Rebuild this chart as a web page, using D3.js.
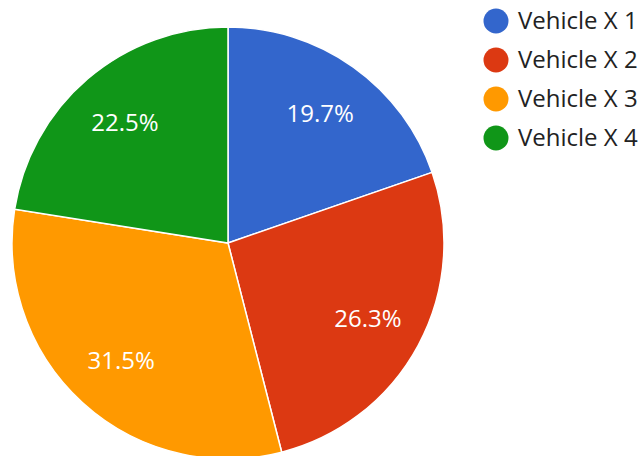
<!DOCTYPE html>
<html>
<head>
<meta charset="utf-8">
<script src="https://cdn.jsdelivr.net/npm/d3@7"></script>
<style>
  body { margin: 0; background: #fff; }
  svg { display: block; font-family: "Open Sans", "Noto Sans", sans-serif; }
</style>
</head>
<body>
<div id="chart"></div>
<script>
// chart data
const categories = ["Vehicle X 1", "Vehicle X 2", "Vehicle X 3", "Vehicle X 4"];
const values = [19.7, 26.3, 31.5, 22.5];
const colors = ["#3366cc", "#dc3912", "#ff9900", "#109618"];

const width = 642, height = 456;
const cx = 228, cy = 243, radius = 216;

const svg = d3.select("#chart").append("svg")
    .attr("width", width)
    .attr("height", height);

const data = categories.map((c, i) => ({ name: c, value: values[i] }));

const color = d3.scaleOrdinal()
    .domain(categories)
    .range(colors);

// pie starts at 12 o'clock, goes clockwise, keeps input order
const pie = d3.pie()
    .value(d => d.value)
    .sort(null);

const arc = d3.arc()
    .innerRadius(0)
    .outerRadius(radius);

const labelArc = d3.arc()
    .innerRadius(radius * 0.735)
    .outerRadius(radius * 0.735);

const g = svg.append("g")
    .attr("transform", `translate(${cx},${cy})`);

const arcs = pie(data);

g.selectAll("path.slice")
    .data(arcs)
    .enter().append("path")
    .attr("class", "slice")
    .attr("d", arc)
    .attr("fill", d => color(d.data.name))
    .attr("stroke", "#fff")
    .attr("stroke-width", 1.5);

const total = d3.sum(values);
g.selectAll("text.pct")
    .data(arcs)
    .enter().append("text")
    .attr("class", "pct")
    .attr("transform", d => `translate(${labelArc.centroid(d)})`)
    .attr("text-anchor", "middle")
    .attr("dy", "0.35em")
    .attr("fill", "#fff")
    .style("font-size", "24px")
    .text(d => d3.format(".1f")(d.data.value / total * 100) + "%");

// legend
const legend = svg.append("g")
    .attr("transform", "translate(496,21)");

const rows = legend.selectAll("g.row")
    .data(categories)
    .enter().append("g")
    .attr("class", "row")
    .attr("transform", (d, i) => `translate(0,${i * 39})`);

rows.append("circle")
    .attr("r", 12.5)
    .attr("fill", d => color(d));

rows.append("text")
    .attr("x", 22)
    .attr("dy", "0.35em")
    .attr("fill", "#222")
    .style("font-size", "24px")
    .text(d => d);
</script>
</body>
</html>
